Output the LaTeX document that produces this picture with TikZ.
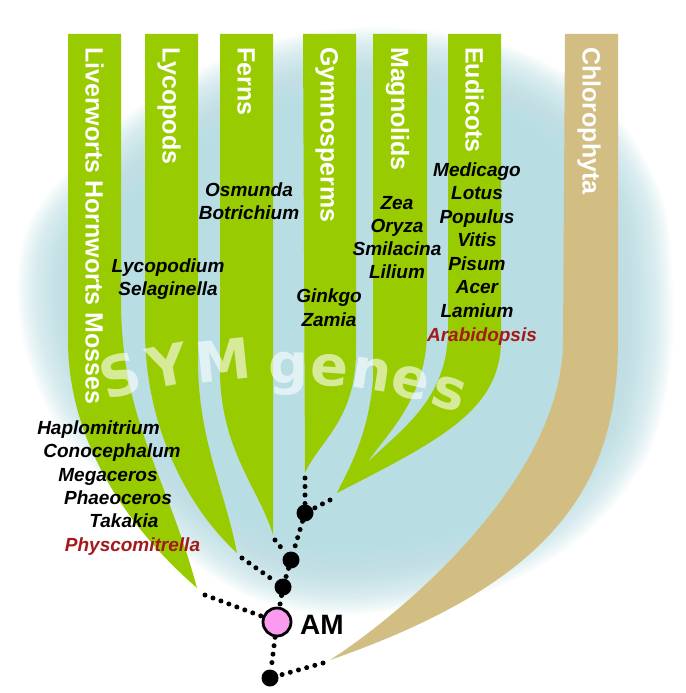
\documentclass[tikz,border=0pt]{standalone}
\usepackage{fontspec}
\setmainfont{Liberation Sans}
\newfontfamily\symfont{DejaVu Sans}
\definecolor{glow}{HTML}{B8DEE4}
\definecolor{leaf}{HTML}{99CC00}
\definecolor{chloro}{HTML}{D2BE82}
\definecolor{dred}{HTML}{A3191C}
\definecolor{pinkam}{HTML}{FA9BEF}
\tikzset{
 barlabel/.style={text=white, font=\fontsize{25}{25}\selectfont\bfseries, rotate=-90, anchor=base west, inner sep=0pt},
 sp/.style={font=\fontsize{19}{23}\selectfont\bfseries\itshape, anchor=base, inner sep=0pt},
 spred/.style={sp, text=dred},
 dotline/.style={line width=5pt, line cap=round, dash pattern=on 0pt off 8.5pt},
 junction/.style={circle, fill=black, minimum size=17pt, inner sep=0pt},
 amnode/.style={circle, draw=black, line width=2.8pt, fill=pinkam, minimum size=28pt, inner sep=0pt},
 symletter/.style={text=white, font=\symfont\fontsize{56}{56}\selectfont\bfseries, anchor=base, inner sep=0pt},
}
\def\glowshape{plot[smooth cycle, tension=0.7] coordinates {(82,275) (115,215) (190,150) (300,100) (430,95) (535,130) (592,195) (608,270) (604,380) (572,455) (495,518) (400,545) (305,547) (232,512) (165,450) (102,375)}}
\begin{document}
\begin{tikzpicture}[x=1pt,y=-1pt]
\useasboundingbox[fill=white] (0,0) rectangle (685,693);
% background glow
\foreach \w in {128,124,...,4} {
  \path[fill=glow, draw=glow, line width=\w pt, line join=round, opacity=0.065] \glowshape;
}
\fill[glow] \glowshape;
% green clades
\fill[leaf]
  (68,34) -- (121,34) -- (121,300) .. controls (121,420) and (165,470) .. (197,588)
     .. controls (125,525) and (68,440) .. (68,340) -- cycle
  (145,34) -- (198,34) -- (198,360) .. controls (198,440) and (225,490) .. (237,553)
     .. controls (190,510) and (145,430) .. (145,330) -- cycle
  (220,34) -- (273,34) -- (273,535) .. controls (260,490) and (220,450) .. (220,370) -- cycle
  (303,34) -- (356,34) -- (356,350) .. controls (356,420) and (320,440) .. (305,473) -- cycle
  (373,34) -- (427,34) -- (427,330) .. controls (427,400) and (385,435) .. (368,462)
     -- (337,493) .. controls (345,475) and (368,440) .. (373,380) -- cycle
  (448,34) -- (501,34) -- (501,340) .. controls (501,410) and (440,440) .. (337,493)
     -- (368,462) .. controls (400,430) and (448,400) .. (448,330) -- cycle;
% Chlorophyta
\fill[chloro] (565,34) -- (618,34) -- (618,340) .. controls (618,480) and (560,580) .. (330,660)
     .. controls (400,615) and (563,480) .. (563,340) -- cycle;
% SYM genes
\begin{scope}[transparency group, opacity=0.6]
\node[symletter, rotate=16] (sym1) at (126,395) {S};
\node[symletter, rotate=11] (sym2) at (171,386) {Y};
\node[symletter, rotate=6] (sym3) at (225,381) {M};
\node[symletter, rotate=0] (sym4) at (289,383) {g};
\node[symletter, rotate=-4] (sym5) at (328,386) {e};
\node[symletter, rotate=-9] (sym6) at (369,390) {n};
\node[symletter, rotate=-13] (sym7) at (407,398) {e};
\node[symletter, rotate=-17] (sym8) at (444,408) {s};
\end{scope}
% clade labels
\node[barlabel] (lLiv) at (85.5,47) {Liverworts Hornworts Mosses};
\node[barlabel] (lLyc) at (162.5,47) {Lycopods};
\node[barlabel] (lFer) at (237.5,47) {Ferns};
\node[barlabel] (lGym) at (320.5,47) {Gymnosperms};
\node[barlabel] (lMag) at (391,47) {Magnolids};
\node[barlabel] (lEud) at (465.5,47) {Eudicots};
\node[barlabel] (lChl) at (582.5,47) {Chlorophyta};
% species
\node[sp] (fer1) at (249,196) {Osmunda};
\node[sp] (fer2) at (249,219) {Botrichium};
\node[sp] (lyc1) at (168,272) {Lycopodium};
\node[sp] (lyc2) at (168,295) {Selaginella};
\node[sp] (gym1) at (329,302) {Ginkgo};
\node[sp] (gym2) at (329,326) {Zamia};
\foreach \t [count=\i from 0] in {Zea,Oryza,Smilacina,Lilium}
  \node[sp] (mag\i) at (397,{209+23.2*\i}) {\t};
\foreach \t [count=\i from 0] in {Medicago,Lotus,Populus,Vitis,Pisum,Acer,Lamium}
  \node[sp] (eud\i) at (477,{176+23.5*\i}) {\t};
\node[spred] (eud7) at (482,341) {Arabidopsis};
\node[sp] (liv1) at (98.5,434) {Haplomitrium};
\node[sp] (liv2) at (112,457) {Conocephalum};
\node[sp] (liv3) at (108,481) {Megaceros};
\node[sp] (liv4) at (118,504) {Phaeoceros};
\node[sp] (liv5) at (124,527) {Takakia};
\node[spred] (liv6) at (132.5,551) {Physcomitrella};
% tree
\coordinate (tipLiv) at (205,595);
\coordinate (tipLyc) at (242,558);
\coordinate (tipFer) at (275,540);
\coordinate (tipGym) at (305,478);
\coordinate (tipMag) at (330,500);
\coordinate (tipChl) at (323,663);
\node[junction] (nA) at (305,513) {};
\node[junction] (nB) at (291,560) {};
\node[junction] (nC) at (283,587) {};
\node[amnode] (am) at (277,622) {};
\node[junction] (nD) at (270,678) {};
\node[font=\fontsize{28}{28}\selectfont\bfseries, anchor=west, inner sep=0pt] (amlabel) at (300,625) {AM};
\draw[dotline] (tipGym) -- (nA);
\draw[dotline] (tipMag) -- (nA);
\draw[dotline] (nA) -- (nB);
\draw[dotline] (tipFer) -- (nB);
\draw[dotline] (nB) -- (nC);
\draw[dotline] (tipLyc) -- (nC);
\draw[dotline] (nC) -- (am);
\draw[dotline] (tipLiv) -- (am);
\draw[dotline] (am) -- (nD);
\draw[dotline] (tipChl) -- (nD);
\end{tikzpicture}
\end{document}
